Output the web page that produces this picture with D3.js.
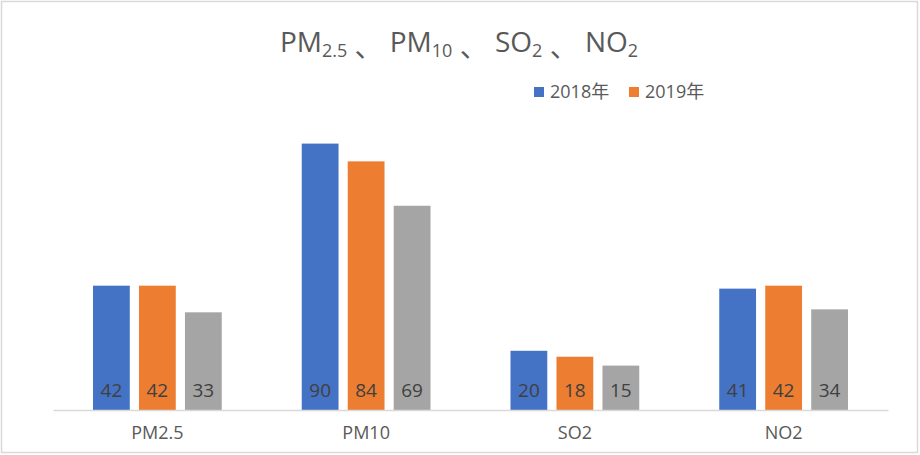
<!DOCTYPE html>
<html>
<head>
<meta charset="utf-8">
<script src="https://cdn.jsdelivr.net/npm/d3@7"></script>
<style>
  body { margin: 0; background: #fff; }
  svg text { font-family: "Open Sans", "Noto Sans CJK SC", sans-serif; }
</style>
</head>
<body>
<svg width="920" height="455"></svg>
<script>
// chart data
var categories = ["PM2.5", "PM10", "SO2", "NO2"];
var seriesNames = ["2018年", "2019年", ""];
var values2018 = [42, 90, 20, 41];
var values2019 = [42, 84, 18, 42];
var valuesThird = [33, 69, 15, 34];
var colors = ["#4472c4", "#ed7d31", "#a5a5a5"];

var allSeries = [values2018, values2019, valuesThird];

var svg = d3.select("svg");

// outer border
svg.append("rect")
  .attr("x", 1.5).attr("y", 1.5)
  .attr("width", 916).attr("height", 451)
  .attr("fill", "#fff")
  .attr("stroke", "#d9d9d9")
  .attr("stroke-width", 1.5);

var margin = { left: 53, right: 32, top: 114, bottom: 45 };
var plotWidth = 920 - margin.left - margin.right;
var plotHeight = 455 - margin.top - margin.bottom;

var plot = svg.append("g")
  .attr("transform", "translate(" + margin.left + "," + margin.top + ")");

// scales
var x = d3.scaleBand()
  .domain(categories)
  .range([0, plotWidth])
  .paddingInner(0)
  .paddingOuter(0);

var groupPad = 40;
var xInner = d3.scaleBand()
  .domain(d3.range(allSeries.length))
  .range([groupPad, x.bandwidth() - groupPad])
  .paddingInner(0.2)
  .paddingOuter(0);

var y = d3.scaleLinear()
  .domain([0, 100])
  .range([plotHeight, 0]);

// bars
var groups = plot.selectAll("g.cat")
  .data(categories)
  .enter().append("g")
  .attr("class", "cat")
  .attr("transform", function(d) { return "translate(" + x(d) + ",0)"; });

groups.selectAll("rect")
  .data(function(d, i) {
    return allSeries.map(function(s, k) { return { k: k, v: s[i] }; });
  })
  .enter().append("rect")
  .attr("x", function(d) { return xInner(d.k); })
  .attr("y", function(d) { return y(d.v); })
  .attr("width", xInner.bandwidth())
  .attr("height", function(d) { return plotHeight - y(d.v); })
  .attr("fill", function(d) { return colors[d.k]; });

// value labels at the bar base
groups.selectAll("text.val")
  .data(function(d, i) {
    return allSeries.map(function(s, k) { return { k: k, v: s[i] }; });
  })
  .enter().append("text")
  .attr("class", "val")
  .attr("x", function(d) { return xInner(d.k) + xInner.bandwidth() / 2; })
  .attr("y", plotHeight - 13)
  .attr("text-anchor", "middle")
  .attr("font-size", 19)
  .attr("fill", "#404040")
  .text(function(d) { return d.v; });

// x axis
var xAxis = d3.axisBottom(x).tickSize(0).tickPadding(13);
var xGroup = plot.append("g")
  .attr("transform", "translate(0," + plotHeight + ")")
  .call(xAxis);
xGroup.select(".domain").attr("stroke", "#d9d9d9").attr("stroke-width", 1.5);
xGroup.selectAll("text")
  .attr("font-family", "'Open Sans', sans-serif")
  .attr("font-size", 18)
  .attr("fill", "#595959")
  .attr("dy", "0.9em");

// title with subscripts
var title = svg.append("text")
  .attr("x", 459)
  .attr("y", 52)
  .attr("text-anchor", "middle")
  .attr("font-size", 28)
  .attr("fill", "#595959");
var titleParts = [
  ["PM", "2.5"], ["PM", "10"], ["SO", "2"], ["NO", "2"]
];
titleParts.forEach(function(p, i) {
  title.append("tspan").attr("dy", i === 0 ? 0 : -5).text((i === 0 ? "" : " ") + p[0]);
  title.append("tspan").attr("dy", 5).attr("font-size", 18).text(p[1]);
  if (i < titleParts.length - 1) {
    title.append("tspan").text(" 、");
  }
});

// legend (only named series)
var legendX = [534, 629];
var legend = svg.selectAll("g.legend")
  .data(seriesNames.filter(function(n) { return n !== ""; }))
  .enter().append("g")
  .attr("class", "legend")
  .attr("transform", function(d, i) { return "translate(" + legendX[i] + ",87)"; });
legend.append("rect")
  .attr("width", 10).attr("height", 10)
  .attr("fill", function(d, i) { return colors[i]; });
legend.append("text")
  .attr("x", 16)
  .attr("y", 11)
  .attr("font-size", 18)
  .attr("fill", "#595959")
  .text(function(d) { return d; });
</script>
</body>
</html>
